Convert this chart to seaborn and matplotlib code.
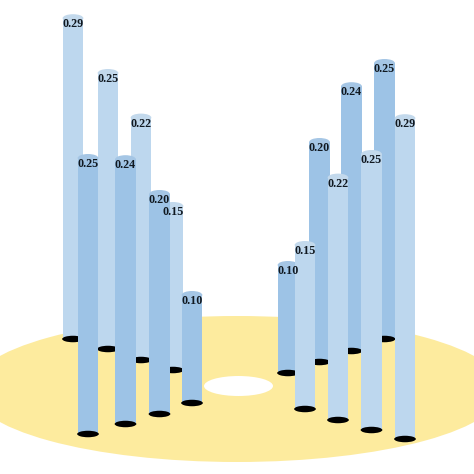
import matplotlib
matplotlib.use("Agg")
import matplotlib.pyplot as plt
from matplotlib.patches import Ellipse
import pandas as pd
import seaborn as sns

# values per bar, left half then right half
left_back_values = [0.29, 0.25, 0.22, 0.15]
left_front_values = [0.25, 0.24, 0.20, 0.10]
right_back_values = [0.10, 0.20, 0.24, 0.25]
right_front_values = [0.15, 0.22, 0.25, 0.29]

# ground layout in image pixels
left_back_x = [73, 108, 141, 173]
left_back_ground = [339, 349, 360, 370]
left_front_x = [88, 125.5, 159.5, 192]
left_front_ground = [434, 424, 414, 403]
right_back_x = [288, 319.5, 351.5, 384.5]
right_back_ground = [373, 362, 351, 339]
right_front_x = [305, 338, 371.5, 405]
right_front_ground = [409, 420, 430, 439]

LIGHT = "#BDD7EE"
DARK = "#9DC3E6"
LIGHT_CAP = "#C3D9EC"
DARK_CAP = "#A5C6E5"
GOLD = "#FDEB9E"
PX = 474
SCALE = 1120  # pixels per unit of value


def to_y(p):
    return (PX - p) / SCALE


sns.set_theme(style="white")
fig = plt.figure(figsize=(4.74, 4.74), dpi=100)
ax = fig.add_axes([0, 0, 1, 1])

ax.add_patch(Ellipse((237, to_y(389)), 532, 146 / SCALE, color=GOLD, lw=0, zorder=1))
ax.add_patch(Ellipse((238.5, to_y(386)), 69, 20 / SCALE, color="white", lw=0, zorder=1.1))

groups = [
    (left_back_x, left_back_ground, left_back_values, LIGHT, LIGHT_CAP, 2),
    (right_back_x, right_back_ground, right_back_values, DARK, DARK_CAP, 2),
    (left_front_x, left_front_ground, left_front_values, DARK, DARK_CAP, 3),
    (right_front_x, right_front_ground, right_front_values, LIGHT, LIGHT_CAP, 3),
]
BAR_W = 20.7
CAP_H = 8 / SCALE

for xs, grounds, values, color, cap, z in groups:
    for x, g, v in zip(xs, grounds, values):
        base = to_y(g)
        row = pd.DataFrame({"x": [x], "value": [v - CAP_H / 2]})
        sns.barplot(data=row, x="x", y="value", native_scale=True, width=BAR_W,
                    bottom=base, color=color, saturation=1, linewidth=0,
                    errorbar=None, ax=ax, zorder=z)
        top = base + v
        ax.add_patch(Ellipse((x, top - CAP_H / 2), BAR_W, CAP_H, color=cap, lw=0, zorder=z + 0.1))
        ax.add_patch(Ellipse((x, base), BAR_W + 1, 6.5 / SCALE, color="black", lw=0, zorder=z + 0.1))
        ax.text(x, top - 10 / SCALE, f"{v:.2f}", ha="center", va="center", fontsize=8.7,
                fontweight="bold", family="Liberation Serif", color="#101820", zorder=5)

ax.set_xlim(0, PX)
ax.set_ylim(0, PX / SCALE)
ax.axis("off")
fig.savefig("out.png", dpi=100, facecolor="white")
